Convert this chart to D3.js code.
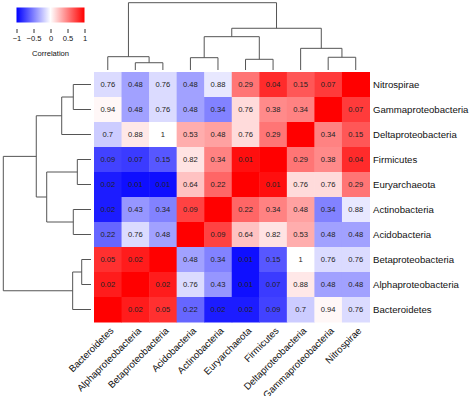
<!DOCTYPE html>
<html>
<head>
<meta charset="utf-8">
<script src="https://cdn.jsdelivr.net/npm/d3@7"></script>
<style>
  body { margin: 0; background: #fff; }
  svg { font-family: "Liberation Sans", Arial, sans-serif; }
</style>
</head>
<body>
<script>
// taxa, top-to-bottom for rows and left-to-right for columns
var rowNames = ["Nitrospirae", "Gammaproteobacteria", "Deltaproteobacteria", "Firmicutes", "Euryarchaeota",
  "Actinobacteria", "Acidobacteria", "Betaproteobacteria", "Alphaproteobacteria", "Bacteroidetes"]
var colNames = ["Bacteroidetes", "Alphaproteobacteria", "Betaproteobacteria", "Acidobacteria", "Actinobacteria",
  "Euryarchaeota", "Firmicutes", "Deltaproteobacteria", "Gammaproteobacteria", "Nitrospirae"]

// correlation (cell colour), rows x columns
var corr = [
  [-0.14, -0.37, -0.14, -0.37, -0.09, 0.54, 0.83, 0.66, 0.77, 1],
  [0.03, -0.37, -0.14, -0.37, -0.49, 0.14, 0.46, 0.49, 1, 0.77],
  [-0.2, 0.09, 0, 0.32, 0.37, 0.14, 0.54, 1, 0.49, 0.66],
  [-0.74, -0.77, -0.66, 0.11, 0.49, 0.94, 1, 0.54, 0.46, 0.83],
  [-0.89, -0.94, -0.94, 0.24, 0.6, 1, 0.94, 0.14, 0.14, 0.54],
  [-0.89, -0.41, -0.49, 0.74, 1, 0.6, 0.49, 0.37, -0.49, -0.09],
  [-0.6, -0.14, -0.37, 1, 0.74, 0.24, 0.11, 0.32, -0.37, -0.37],
  [0.81, 0.89, 1, -0.37, -0.49, -0.94, -0.66, 0, -0.14, -0.14],
  [0.89, 1, 0.89, -0.14, -0.41, -0.94, -0.77, 0.09, -0.37, -0.37],
  [1, 0.89, 0.81, -0.6, -0.89, -0.89, -0.74, -0.2, 0.03, -0.14]
]

// p-values printed in the cells (null = diagonal)
var pvals = [
  [0.76, 0.48, 0.76, 0.48, 0.88, 0.29, 0.04, 0.15, 0.07, null],
  [0.94, 0.48, 0.76, 0.48, 0.34, 0.76, 0.38, 0.34, null, 0.07],
  [0.7, 0.88, 1, 0.53, 0.48, 0.76, 0.29, null, 0.34, 0.15],
  [0.09, 0.07, 0.15, 0.82, 0.34, 0.01, null, 0.29, 0.38, 0.04],
  [0.02, 0.01, 0.01, 0.64, 0.22, null, 0.01, 0.76, 0.76, 0.29],
  [0.02, 0.43, 0.34, 0.09, null, 0.22, 0.34, 0.48, 0.34, 0.88],
  [0.22, 0.76, 0.48, null, 0.09, 0.64, 0.82, 0.53, 0.48, 0.48],
  [0.05, 0.02, null, 0.48, 0.34, 0.01, 0.15, 1, 0.76, 0.76],
  [0.02, null, 0.02, 0.76, 0.43, 0.01, 0.07, 0.88, 0.48, 0.48],
  [null, 0.02, 0.05, 0.22, 0.02, 0.02, 0.09, 0.7, 0.94, 0.76]
]

// dendrograms: [left, right, height], leaves are indices, root height = 1
var colTree = [[0, [1, 2, 0.108], 0.198], [[[3, 4, 0.183], [5, 6, 0.159], 0.495], [7, [8, 9, 0.189], 0.322], 0.62], 1]
var rowTree = [[[[0, 1, 0.202], 2, 0.334], [[3, 4, 0.156], [5, 6, 0.202], 0.505], 0.624], [[7, 8, 0.106], 9, 0.209], 1]

var legendTicks = [-1, -0.5, 0, 0.5, 1]

var width = 474, height = 396

var svg = d3.select("body").append("svg")
  .attr("width", width)
  .attr("height", height)

var x = d3.scaleBand().domain(d3.range(colNames.length)).range([94, 369.5])
var y = d3.scaleBand().domain(d3.range(rowNames.length)).range([72, 322])
var color = d3.scaleLinear().domain([-1, 0, 1]).range(["#0000ff", "#ffffff", "#ff0000"])

// cells
var cells = []
corr.forEach(function(row, i) {
  row.forEach(function(v, j) { cells.push({r: i, c: j, v: v, p: pvals[i][j]}) })
})

svg.append("g").selectAll("rect")
  .data(cells)
  .enter().append("rect")
  .attr("x", function(d) { return x(d.c) })
  .attr("y", function(d) { return y(d.r) })
  .attr("width", x.bandwidth() + 0.5)
  .attr("height", y.bandwidth() + 0.5)
  .attr("fill", function(d) { return color(d.v) })

svg.append("g").selectAll("text")
  .data(cells.filter(function(d) { return d.p !== null }))
  .enter().append("text")
  .attr("x", function(d) { return x(d.c) + x.bandwidth() / 2 })
  .attr("y", function(d) { return y(d.r) + y.bandwidth() / 2 })
  .attr("dy", "0.35em")
  .attr("text-anchor", "middle")
  .attr("font-size", "7.6px")
  .attr("fill", "#222")
  .text(function(d) { return String(d.p) })

// row labels
svg.append("g").selectAll("text")
  .data(rowNames)
  .enter().append("text")
  .attr("x", 373)
  .attr("y", function(d, i) { return y(i) + y.bandwidth() / 2 })
  .attr("dy", "0.35em")
  .attr("font-size", "9.6px")
  .attr("fill", "#111")
  .text(function(d) { return d })

// column labels
svg.append("g").selectAll("text")
  .data(colNames)
  .enter().append("text")
  .attr("transform", function(d, i) {
    return "translate(" + (x(i) + x.bandwidth() / 2 + 4) + ",329) rotate(-45)"
  })
  .attr("text-anchor", "end")
  .attr("dy", "0.35em")
  .attr("font-size", "9.6px")
  .attr("fill", "#111")
  .text(function(d) { return d })

// dendrograms
var colH = d3.scaleLinear().domain([0, 1]).range([70, 2.7])
var rowH = d3.scaleLinear().domain([0, 1]).range([91, 3.3])
var dendro = svg.append("g")
  .attr("fill", "none")
  .attr("stroke", "#555")
  .attr("stroke-width", 1)

function drawTree(node, posOf, hScale, vertical) {
  if (!Array.isArray(node)) return {pos: posOf(node), h: 0}
  var a = drawTree(node[0], posOf, hScale, vertical)
  var b = drawTree(node[1], posOf, hScale, vertical)
  var h = hScale(node[2])
  var path
  if (vertical) {
    path = "M" + a.pos + "," + hScale(a.h) + "V" + h + "H" + b.pos + "V" + hScale(b.h)
  } else {
    path = "M" + hScale(a.h) + "," + a.pos + "H" + h + "V" + b.pos + "H" + hScale(b.h)
  }
  dendro.append("path").attr("d", path)
  return {pos: (a.pos + b.pos) / 2, h: node[2]}
}

drawTree(colTree, function(i) { return x(i) + x.bandwidth() / 2 }, colH, true)
drawTree(rowTree, function(i) { return y(i) + y.bandwidth() / 2 }, rowH, false)

// legend
var defs = svg.append("defs")
var grad = defs.append("linearGradient").attr("id", "corrGrad")
d3.range(0, 1.0001, 0.1).forEach(function(t) {
  grad.append("stop")
    .attr("offset", (t * 100) + "%")
    .attr("stop-color", color(-1 + 2 * t))
})

var lx = d3.scaleLinear().domain([-1, 1]).range([16.5, 84.5])
svg.append("rect")
  .attr("x", lx(-1))
  .attr("y", 7.5)
  .attr("width", lx(1) - lx(-1))
  .attr("height", 15)
  .attr("fill", "url(#corrGrad)")

var legAxis = svg.append("g")
  .attr("transform", "translate(0,29)")
  .call(d3.axisBottom(lx).tickValues(legendTicks).tickSize(4).tickFormat(d3.format("")))
legAxis.select(".domain").remove()
legAxis.selectAll("line").attr("stroke", "#333")
legAxis.selectAll("text")
  .attr("font-size", "7.6px")
  .attr("font-family", "Liberation Sans, Arial, sans-serif")
  .attr("fill", "#111")
  .attr("y", 7)

svg.append("text")
  .attr("x", lx(0))
  .attr("y", 56)
  .attr("text-anchor", "middle")
  .attr("font-size", "7.6px")
  .attr("fill", "#111")
  .text("Correlation")
</script>
</body>
</html>
